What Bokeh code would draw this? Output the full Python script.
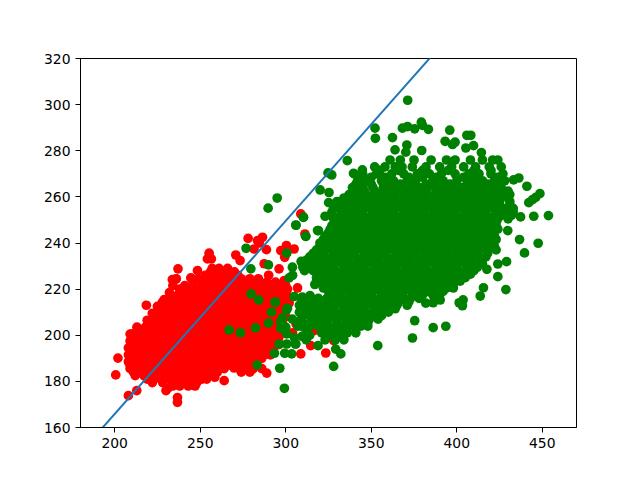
from bokeh.plotting import figure
from bokeh.models import FixedTicker, Range1d
from bokeh.embed import file_html
from bokeh.resources import INLINE

x_ticks = [200, 250, 300, 350, 400, 450]
y_ticks = [160, 180, 200, 220, 240, 260, 280, 300, 320]

line_x = [190, 390]
line_y = [157.5, 325]

# red class: scattered points read one by one
red_out_x = [200.6,201.9,208,212.9,218.5,210.3,217.2,236.7,236.7,230,231.2,246.4,253.8,258.5,264,269.8,288.9,308.8,314.6,306.9,308.8,311.2,300.4,304.9,297.1,299.4,278,283.5,286.4,281.5,288.7,284.5,255.2,254.2,256.5,270.8,273.3,237,233.7,235.8,248.4,244.5,227.9,226.5,264,258.1,287.4,296.1,299.1,310,306,312,304,316,323.4,316.6,328,338]
red_out_y = [182.8,190.1,173.8,176,213,200.6,202.7,170.9,173,176,177.1,178.4,181,181.8,180.3,185.8,183.6,191.9,195.5,220.5,252.6,243.9,238.9,237.4,236.7,233.8,242,241,242.5,237.4,237.1,240,235.6,233.1,233.1,234.8,232.4,228.8,224.1,224.4,228,224.9,214.3,212.8,227.3,228,231,228.8,223.7,213,205,209,201,206,192.3,202,197.7,210]

# red class: dense body, row by row (y, then the x values on it)
red_row_y = [229,227.5,226,224.5,223,221.5,220,218.5,217,215.5,214,212.5,211,209.5,208,206.5,205,203.5,202,200.5,199,197.5,196,194.5,193,191.5,190,188.5,187,185.5,184,182.5,181,179.5,178]
red_row_x = [
 [257,261,266],
 [256,260,265,270],
 [253,257,262,267,272,290],
 [236,245,249,254,259,264,269,274,279,284],
 [253,258,262,267,271,276,280,285,289,294,299],
 [234,241,246,251,255,260,265,270,275,280,285,290,295,300],
 [238,243,248,252,257,261,266,270,275,279,284,288,293,297,301],
 [232,238,243,248,253,258,263,268,273,278,283,288,293,298],
 [234,238,242,247,251,256,260,265,269,274,278,283,287,292,296,301],
 [229,235,240,245,250,255,260,265,270,275,280,285,290,295,300],
 [231,236,240,245,249,254,258,263,267,272,276,281,285,290,294,299,302],
 [225,230,235,240,245,250,255,260,265,270,275,280,285,290,295,300],
 [227,232,236,241,245,250,254,259,263,268,272,277,281,286,290,295,300],
 [222,227,232,237,242,247,252,257,262,267,272,277,282,287,292,297],
 [224,229,233,238,242,247,251,256,260,265,269,274,278,283,287,292,296,300],
 [219,224,229,234,239,244,249,254,259,264,269,274,279,284,289,294,298],
 [221,225,230,234,239,243,248,252,257,261,266,270,275,279,284,288,293,298],
 [213,218,223,228,233,238,243,248,253,258,263,268,273,278,283,288,293,297],
 [217,222,226,231,235,240,244,249,253,258,262,267,271,276,280,285,289,294,298],
 [209,215,220,225,230,235,240,245,250,255,260,265,270,275,280,285,290,295],
 [213,218,222,227,231,236,240,245,249,254,258,263,267,272,276,281,285,290,296],
 [209,214,219,224,229,234,239,244,249,254,259,264,269,274,279,284,289,294],
 [211,215,220,224,229,233,238,242,247,251,256,260,265,269,274,278,283,287,292,296],
 [208,213,218,223,228,233,238,243,248,253,258,263,268,273,278,283,288,293],
 [210,214,219,223,228,232,237,241,246,250,255,259,264,268,273,277,282,286,290],
 [208,212,217,222,227,232,237,242,247,252,257,262,267,272,277,282,287,291],
 [209,213,218,222,227,231,236,240,245,249,254,258,263,267,272,276,281,286],
 [208,213,218,223,228,233,238,243,248,253,258,263,268,273,278,283],
 [209,214,218,223,227,232,236,241,245,250,254,259,263,268,272,276,281],
 [209,214,219,224,229,234,239,244,249,254,259,264,276,281,286],
 [211,215,220,224,229,233,238,242,247,251,256,260,274,279],
 [212,217,222,227,232,237,242,247,252,258],
 [219,223,228,232,237,241,246,251],
 [222,228,235,241,248],
 [234,238,243,247],
]

# green class: scattered points read one by one
green_out_x = [371.3,352.2,352.4,362.4,368.2,371.2,375.4,379.3,380,383.4,395.9,405.9,408.2,393.2,397.5,399,405.3,409.8,414.4,363.9,370.8,370.2,379.5,336,326.9,324.7,339.6,344.8,320.1,325.3,325.1,323,310.3,306,311.7,319.1,433.2,436.3,441,448.6,446.2,444.3,442.1,437.3,445,453.6,429.8,436.7,447.6,439.6,429.1,424,417.6,424,428.7,415.6,413.7,381.9,386.2,390.3,403.7,401.4,403.3,386.2,393.6,375.4,374.1,353.8,328,332.2,329.2,318.9,305.6,299.2,296.5,283.3,293.4,299.4,303.5,296.1,300.6,305.9,266.9,273.5,282.3,289.9,291.6,294,284.2,279.7,301,298.1,297.1,303.9,300.6,302,303.9,279.6,289.9,276.8,289.7,295,305.9,310.4,311.7,300.6,318.6,293.7,300.5,297,300,305,309.5,314,304.9,309.7,314.2,312,309,304,307]
green_out_y = [301.9,289.8,285.4,285.7,289.8,290.5,289.5,292.4,291,289.3,288.9,286.7,286.7,284.1,282.7,283.7,281.2,282.2,279.2,280.4,282.5,279.4,280.1,275.7,269.5,270.4,270.2,271.7,263,261.9,257.5,251.6,251.1,247.7,242.9,245.4,267.4,268.2,264.6,261.4,259.8,258.8,257.5,251.3,251.6,251.9,245.4,241.5,239.9,235.7,231.9,230.9,228.6,225.4,219.8,220.6,217,213.9,214.1,215.3,215.3,214.1,212.8,203.3,203.9,206.3,198.8,195.5,186.5,191.9,194,195.5,196.2,177,185.7,187.1,192.2,192.2,191.9,196.2,196.2,196.2,202.3,201.1,203.2,205.3,210,214.3,215.3,217.9,211.7,207.4,203,207,200.6,224.9,229.5,228.8,230.5,237.7,255.1,259.5,247.8,251.2,242.9,235.6,245.4,214.4,211,206,203.5,199,199.5,200,216.8,216.5,217.2,230,232,226,204]

# green class: dense body, row by row
green_row_y = [276,273,271.5,270,268.5,267,265.5,264,262.5,261,259.5,258,256.5,255,253.5,252,250.5,249,247.5,246,244.5,243,241.5,240,238.5,237,235.5,234,232.5,231,229.5,228,226.5,225,223.5,222,220.5,219,217.5,216,214.5,213,211.5,210,208.5,207,205.5,204,202.5,201,199.5,198]
green_row_x = [
 [361,367,375,385,394,399,408,415,421,424],
 [352,358,364,368,374,382,390,397,404,411,419,426],
 [355,366,380,395,410,420],
 [340,345,353,362,369,377,384,391,399,407,413,420,427],
 [344,350,358,372,380,388,404,411,424],
 [342,347,356,363,371,376,386,392,400,409,415,422,428],
 [341,350,360,367,374,382,390,396,406,412,418,425],
 [339,345,351,357,363,368,373,378,383,388,393,398,403,408,413,418,421,426],
 [340,346,352,358,364,370,376,382,388,394,400,406,412,418,424,430],
 [337,342,346,351,355,360,364,369,373,378,382,387,391,396,400,405,409,414,418,423,428,431],
 [334,340,346,352,358,364,370,376,382,388,394,400,406,412,418,424,430],
 [330,335,339,344,348,353,357,362,366,371,375,380,384,389,393,398,402,407,411,416,420,425,431],
 [329,335,341,347,353,359,365,371,377,383,389,395,401,407,413,419,425,431],
 [328,332,337,341,346,350,355,359,364,368,373,377,382,386,391,395,400,404,409,413,418,422,427,433],
 [327,333,339,345,351,357,363,369,375,381,387,393,399,405,411,417,423,429,433],
 [327,332,336,341,345,350,354,359,363,368,372,377,381,386,390,395,399,404,408,413,417,422,426,432],
 [328,334,340,346,352,358,364,370,376,382,388,394,400,406,412,418,424,430],
 [329,333,338,342,347,351,356,360,365,369,374,378,383,387,392,396,401,405,410,414,419,423],
 [327,333,339,345,351,357,363,369,375,381,387,393,399,405,411,417,423],
 [326,331,335,340,344,349,353,358,362,367,371,376,380,385,389,394,398,403,407,412,416,421,424],
 [325,331,337,343,349,355,361,367,373,379,385,391,397,403,409,415,421],
 [323,328,332,337,341,346,350,355,359,364,368,373,377,382,386,391,395,400,404,409,413,418,422],
 [322,328,334,340,346,352,358,364,370,376,382,388,394,400,406,412,418,423],
 [320,325,329,334,338,343,347,352,356,361,365,370,374,379,383,388,392,397,401,406,410,415,420],
 [320,326,332,338,344,350,356,362,368,374,380,386,392,398,404,410,416,422],
 [318,323,327,332,336,341,345,350,354,359,363,368,372,377,381,386,390,395,399,404,408,413,418,423],
 [316,322,328,334,340,346,352,358,364,370,376,382,388,394,400,406,412,418],
 [314,319,323,328,332,337,341,346,350,355,359,364,368,373,377,382,386,391,395,400,404,409,413,417],
 [312,318,324,330,336,342,348,354,360,366,372,378,384,390,396,402,408,414],
 [310,315,319,324,328,333,337,342,346,351,355,360,364,369,373,378,382,387,391,396,400,405,409,415],
 [310,316,322,328,334,340,346,352,358,364,370,376,382,388,394,400,406,412],
 [311,316,320,325,329,334,338,343,347,352,356,361,365,370,374,379,383,388,392,397,401,406,410],
 [320,326,332,338,344,350,356,362,368,374,380,386,392,398,404,408],
 [318,323,328,332,337,341,346,350,355,359,364,368,373,377,382,386,391,395,400,405],
 [318,324,330,336,342,348,354,360,366,372,378,384,390,396,402],
 [317,322,327,331,336,340,345,349,354,358,363,367,372,376,381,385,390,394,398],
 [322,328,334,340,346,352,358,364,370,376,382,388,394,398],
 [325,329,333,338,342,347,351,356,360,365,369,374,378,383,388,392],
 [326,332,338,344,350,356,362,368,374,380,386,390],
 [309,315,319,324,328,333,337,342,346,351,355,360,364,369,373,378],
 [311,318,324,330,336,342,348,354,360,366,372],
 [308,312,316,320,325,329,334,338,343,347,352,356,361,365,371],
 [309,316,322,328,334,340,346,352,358,364],
 [308,314,319,323,328,333,337,342,346,351,355,360],
 [310,316,322,328,334,340,346,352,356],
 [309,315,320,325,330,335,339,344,349,354],
 [310,316,324,330,336,342,348],
 [309,314,319,324,329,334,339,344,348],
 [312,323,329,335],
 [312,321,326,331,336,341],
 [312,324,330],
 [312,323,329,334],
]

red_x = list(red_out_x)
red_y = list(red_out_y)
for ry, xs in zip(red_row_y, red_row_x):
    red_x += xs
    red_y += [ry] * len(xs)

green_x = list(green_out_x)
green_y = list(green_out_y)
for gy, xs in zip(green_row_y, green_row_x):
    green_x += xs
    green_y += [gy] * len(xs)

p = figure(width=640, height=480, output_backend="svg", toolbar_location=None,
           x_range=Range1d(180, 470), y_range=Range1d(160, 320),
           min_border_left=80, min_border_right=64, min_border_top=58, min_border_bottom=53)
p.grid.visible = False
p.outline_line_color = "black"
p.outline_line_width = 1
p.background_fill_color = "white"
p.border_fill_color = "white"

p.scatter(red_x, red_y, size=9.7, color="red", line_width=0)
p.scatter(green_x, green_y, size=9.7, color="green", line_width=0)
p.line(line_x, line_y, line_color="#1f77b4", line_width=2)

for ax, ticks in ((p.xaxis[0], x_ticks), (p.yaxis[0], y_ticks)):
    ax.ticker = FixedTicker(ticks=ticks)
    ax.major_tick_in = 0
    ax.major_tick_out = 5
    ax.minor_tick_in = 0
    ax.minor_tick_out = 0
    ax.major_tick_line_color = "black"
    ax.axis_line_color = "black"
    ax.major_label_text_color = "black"
    ax.major_label_text_font = "DejaVu Sans"
    ax.major_label_text_font_size = "13.9px"
    ax.major_label_standoff = 5

open("out.html", "w").write(file_html(p, INLINE))
